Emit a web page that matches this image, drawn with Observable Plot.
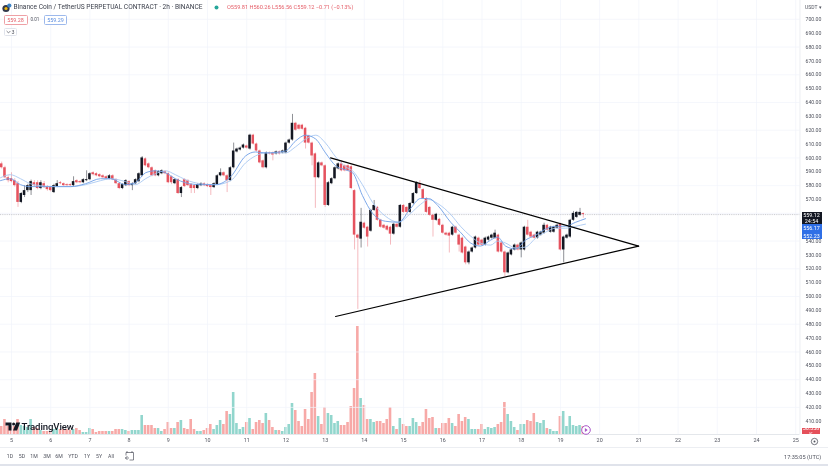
<!DOCTYPE html>
<html><head><meta charset="utf-8">
<script src="https://cdn.jsdelivr.net/npm/d3@7"></script>
<script src="https://cdn.jsdelivr.net/npm/@observablehq/plot@0.6"></script>
<style>
html,body{margin:0;padding:0;background:#fff;overflow:hidden}
#chart{position:relative;width:828px;height:466px;font-family:Roboto,sans-serif;color:#131722;overflow:hidden;filter:blur(0.3px)}
#chart>div.p{position:absolute;left:0;top:0}
.t{position:absolute;white-space:nowrap;line-height:1}
.box{position:absolute;box-sizing:border-box;border-radius:1.5px;background:#fff;text-align:center;font-size:5.4px;display:flex;align-items:center;justify-content:center}
.tag{position:absolute;color:#fff;font-size:5.4px;text-align:center;display:flex;flex-direction:column;justify-content:center;line-height:6px}
</style></head><body>
<div id="chart"></div>
<script>
// 2h candles: index 0 is the 4th candle before day 5 00:00
const open=[595.7,592.9,585.7,585,583.6,581.4,567.9,572.9,576.4,576.4,582.1,582.1,577.9,581.4,579.3,578.6,575,579.3,582.1,581.4,580.7,580.7,580,583.6,582.9,582.1,583.6,584.3,589.3,588.6,587.9,587.1,586.4,585,587.1,584.3,581.4,577.9,580,582.9,580,581.4,582.9,587.1,599.3,595.7,592.9,590.7,587.1,588.6,590,588.6,586.4,581.4,584.3,574.3,584.3,583.6,580.7,580,577.9,580,581.4,580.7,580,578.6,580.7,587.1,589.3,587.1,583.6,592.9,604.3,605.7,607.1,608.6,606.4,616.4,610,605,597.9,592.9,603.6,603.6,602.9,604.3,603.6,603.6,610.7,612.9,625,623.6,623.6,621.4,615.7,610.7,602.9,585.7,596.4,594.3,565.7,581.4,585,592.1,595.7,594.3,594.3,593.6,576.4,544.3,541.4,552.9,550,547.1,562.1,564.3,555,551.4,550.7,550,545,552.1,550,565.7,564.3,560.7,567.1,574.3,581.4,577.1,570.7,564.3,558.6,555,555.7,551.4,545.7,545.7,544.3,550,544.3,542.1,535.7,524.3,532.1,535,542.1,540.7,537.1,540.7,542.1,542.1,544.3,538.6,532.1,517.1,530,533.6,537.1,533.6,533.6,550,546.4,544.3,542.1,544.3,545.7,551.4,546.4,546.4,549.3,552.1,533.6,542.1,542.9,555,557.1,558.6,559.81];
const close=[592.9,585.7,583.6,582.9,580,567.9,574.3,576.4,580,582.9,580,577.9,582.1,578.6,577.1,576.4,580,581.4,581.4,580,580,580,582.9,582.1,582.1,584.3,584.3,588.6,587.9,587.1,586.4,585.7,585,587.1,584.3,581.4,577.9,580.7,583.6,580,581.4,584.3,588.6,600,594.3,592.9,587.1,587.1,590,590.7,588.6,582.1,582.1,584.3,574.3,578.6,579.3,580,577.9,577.9,580.7,581.4,580,579.3,578.6,581.4,587.1,589.3,587.1,583.6,592.9,605,606.4,607.1,609.3,607.1,616.4,610,605,596.4,592.9,603.6,602.9,602.1,604.3,602.9,605,610.7,612.9,625,620,620.7,620.7,610.7,610.7,601.4,585.7,596.4,594.3,565.7,582.1,585,592.9,595.7,590.7,590.7,590.7,577.9,544.3,542.1,553.6,549.3,542.9,562.1,565.7,555,550,549.3,547.9,545,552.1,550,565.7,560.7,560.7,567.1,574.3,582.1,577.9,570.7,560.7,558.6,555,559.3,551.4,545.7,544.3,543.6,550,545.7,537.1,531.4,524.3,532.1,535,542.9,537.1,537.1,542.1,542.9,544.3,545.7,532.1,532.1,517.1,531.4,533.6,537.1,533.6,538.6,550,544.3,542.9,542.1,546.4,546.4,551.4,547.9,550,550,551.4,533.6,542.9,544.3,555,560,560.7,560.7,559.12];
const high=[597,594,587,589.3,585,583,575,580,581,584,583.6,583.5,583.5,583,580,579.5,581,583.6,583,582,581.4,581.4,586.4,584.3,583.6,585,590.7,589.3,590,589.3,588.6,587.9,587.1,587.9,587.9,585,582.1,581.4,584.3,583.6,582.1,585,589.3,601,600,596.4,593.6,591.4,590.7,591.4,590.7,589.3,587.1,585,585,579.3,585,584.3,581.4,580.7,581.4,582.1,582.1,581.4,580.7,582.1,587.9,592.1,590,587.9,593.6,610.7,607.1,607.9,610,609.3,617.1,617.1,610.7,605.7,598.6,604.3,604.3,604.3,605,605,605.7,611.4,613.6,631.4,625.7,624.3,624.3,622.1,616.4,611.4,603.6,597.1,597.1,595,582.9,585.7,593.6,596.4,597.9,595,595,594.3,577.1,545,563.6,553.6,550.7,562.9,569.3,565,555.7,552.1,551.4,550.7,552.9,552.9,566.4,566.4,565,567.9,575,582.9,583.6,577.9,571.4,565,559.3,560,556.4,552.1,546.4,546.4,550.7,550.7,545,542.9,536.4,532.9,535.7,543.6,542.9,541.4,542.9,543.6,545,547.9,545,539.3,532.9,532.1,534.3,537.9,537.9,539.3,550.7,555,547.1,545,547.1,547.1,552.9,552.1,550.7,550.7,552.1,552.9,543.6,545,555.7,561.4,561.4,563.6,560.26];
const low=[592,585,582,582,579,564.3,567,571.4,575,572.9,579,577,577,578,576,575.5,574.3,578.6,580.7,579.3,579.3,579.3,579.3,581.4,581.4,581.4,582.9,583.6,587,586.4,585.7,585,584.3,584.3,583.6,580.7,577.1,577.1,579.3,579.3,576.4,580.7,582.1,586.4,593.6,592.1,586.4,586.4,586.4,587.9,587.9,581.4,580.7,580.7,573.6,571.4,578.6,579.3,574.3,574.3,577.1,579.3,579.3,578.6,572.9,577.9,580,586.4,586.4,575,582.9,592.1,603.6,605,606.4,606.4,605.7,609.3,604.3,595.7,592.1,592.1,602.1,597.9,602.1,602.1,602.9,602.9,610,612.1,619.3,620,620,606.4,610,594.3,563.6,585,593.6,564.3,565,580.7,584.3,591.4,590,590,590,577.1,533.6,490.7,535,548.6,535.7,546.4,561.4,554.3,549.3,548.6,547.1,537.1,544.3,549.3,549.3,560,560,560,566.4,573.6,577.1,570,560,557.9,542.9,554.3,550.7,545,543.6,531.4,543.6,545,532.1,530.7,522.9,522.9,531.4,534.3,536.4,536.4,536.4,540,541.4,541.4,531.4,531.4,514.3,516.4,529.3,532.9,532.9,527.9,532.9,543.6,542.1,541.4,541.4,543.6,545,547.1,545.7,545.7,548.6,532.9,524.3,541.4,542.1,554.3,556.4,557.9,556.56];
// volume, thousands
const volume=[56,105,56,56,56,105,63,56,49,105,49,42,28,21,21,21,35,42,35,35,35,28,35,42,28,14,14,42,35,14,21,21,21,21,21,35,35,35,28,21,28,28,28,133,63,63,63,42,42,21,35,84,42,42,84,98,42,35,105,35,21,21,28,42,70,35,63,98,70,161,140,294,77,35,49,84,112,35,84,98,77,147,98,49,28,28,21,49,70,217,168,91,56,175,105,294,427,126,70,189,147,133,77,91,63,63,84,196,322,756,252,203,105,105,84,91,91,77,105,189,56,35,112,70,56,56,112,84,56,84,175,112,119,42,42,77,77,112,77,56,140,91,119,105,35,35,35,70,35,49,42,49,70,84,224,140,91,49,28,70,70,98,91,147,84,77,98,42,35,21,21,126,161,56,126,63,56,63,56];
// moving averages read at sparse days
const maDays=[4.72,4.97,5.23,5.48,5.74,6.12,6.51,6.89,7.27,7.53,7.91,8.16,8.42,8.67,8.93,9.18,9.44,9.82,10.2,10.59,10.97,11.22,11.48,11.99,12.24,12.5,12.76,13.01,13.27,13.52,13.7,13.95,14.21,14.54,14.87,15.18,15.43,15.64,15.87,16.2,16.45,16.71,16.96,17.22,17.4,17.6,17.86,18.11,18.37,18.62,18.88,19.13,19.39,19.64];
const maFast=[583.6,585,580.7,579.3,579.3,579.3,579.3,581.4,585,585,580.7,582.1,589.3,590.7,589.3,585,582.1,580.7,580.7,586.4,601.4,604.3,603.6,605,612.1,616.4,613.6,603.6,594.3,591.4,589.3,572.9,560,554.3,553.6,563.6,570.7,570.7,565.7,553.6,546.4,538.6,536.4,540.7,542.9,536.4,534.3,540.7,544.3,548.6,550.7,550.7,553.6,556.17];
const maSlow=[585.7,587.9,585,581.4,580,579.3,579.3,580.7,583.6,585,582.9,580.7,585,588.6,590.7,587.9,584.3,581.4,580.7,583.6,596.4,601.4,603.6,603.6,607.9,613.6,616.4,610.7,600.7,593.6,590.7,580.7,567.9,557.9,553.6,560,566.4,570,567.1,559.3,550.7,543.6,538.6,537.1,540,538.6,535,535.7,542.1,546.4,549.3,549.3,550.7,552.23];
// hand-drawn triangle, upper and lower leg
const upperLegDay=[13.138,20.995], upperLegPrice=[600,536.4];
const lowerLegDay=[13.265,20.995], lowerLegPrice=[485.6,536.4];
const lastPrice=559.12;
const dayTicks=[5,6,7,8,9,10,11,12,13,14,15,16,17,18,19,20,21,22,23,24,25];
const priceTicks=[410,420,430,440,450,460,470,480,490,500,510,520,530,540,570,580,590,600,610,620,630,640,650,660,670,680,690,700];
const gridPrices=[420,440,460,480,500,520,540,560,580,600,620,640,660,680,700];
const rangeButtons=[["1D",10],["5D",22],["1M",34],["3M",47],["6M",59],["YTD",73],["1Y",87],["5Y",99],["All",111]];

const candles=open.map((o,i)=>({day:5+(i-3)/12,open:o,close:close[i],high:high[i],low:low[i],volume:volume[i],up:close[i]>=o}));
const red="#e5535f",black="#131722",volRed="#f7a9a7",volTeal="#92d6cd";
const xDomain=[4.72,25.11];
const M={width:828,height:466,marginLeft:0,marginRight:28.5,marginTop:0,marginBottom:32,style:{background:"transparent",overflow:"visible"}};

const volPlot=Plot.plot({...M,x:{domain:xDomain,axis:null},y:{domain:[0,3038],axis:null},
  marks:[
    Plot.rectY(candles,{x1:d=>d.day-0.033,x2:d=>d.day+0.033,y1:0,y2:"volume",fill:d=>d.up?volTeal:volRed})
  ]});
const pricePlot=Plot.plot({...M,
  x:{domain:xDomain,axis:null},
  y:{domain:[400.45,713.58],axis:null},
  marks:[
    Plot.gridX(dayTicks,{stroke:"#f0f3fa",strokeOpacity:1,strokeWidth:0.7}),
    Plot.gridY(gridPrices,{stroke:"#f0f3fa",strokeOpacity:1,strokeWidth:0.7}),
    Plot.ruleY([400.45],{stroke:"#d9dce3",strokeWidth:0.7}),
    Plot.ruleX([25.11],{stroke:"#e4e6ec",strokeWidth:0.7}),
    Plot.ruleY([lastPrice],{stroke:"#b4b6be",strokeWidth:0.7,strokeDasharray:"1 0.8"}),
    Plot.ruleX(candles,{x:"day",y1:"low",y2:"high",stroke:d=>d.up?black:red,strokeWidth:0.8,strokeOpacity:d=>d.up?0.6:0.5}),
    Plot.rect(candles,{x1:d=>d.day-0.032,x2:d=>d.day+0.032,y1:"open",y2:"close",fill:d=>d.up?black:red}),
    Plot.line(maDays.map((d,i)=>({d,p:maSlow[i]})),{x:"d",y:"p",stroke:"#a9c8f2",strokeWidth:0.9,curve:"monotone-x"}),
    Plot.line(maDays.map((d,i)=>({d,p:maFast[i]})),{x:"d",y:"p",stroke:"#6f9fe6",strokeWidth:0.9,curve:"monotone-x"}),
    Plot.line(upperLegDay.map((d,i)=>({d,p:upperLegPrice[i]})),{x:"d",y:"p",stroke:"#000",strokeWidth:1.2}),
    Plot.line(lowerLegDay.map((d,i)=>({d,p:lowerLegPrice[i]})),{x:"d",y:"p",stroke:"#000",strokeWidth:1.2}),
    Plot.axisY(priceTicks,{anchor:"right",tickSize:0,tickPadding:5.5,label:null,tickFormat:d=>d.toFixed(2),fontSize:5.2,fill:"#50535e",fontFamily:"Roboto"}),
    Plot.axisX(dayTicks,{anchor:"bottom",tickSize:0,tickPadding:4,label:null,tickFormat:d=>String(d),fontSize:5.4,fill:"#50535e",fontFamily:"Roboto"})
  ]});

const root=document.getElementById("chart");
for(const pl of [volPlot,pricePlot]){const w=document.createElement("div");w.className="p";w.append(pl);root.append(w);}
function text(s,x,y,size,color,extra){const d=document.createElement("div");d.className="t";d.textContent=s;
  Object.assign(d.style,{left:x+"px",top:y+"px",fontSize:size+"px",color},extra||{});root.append(d);return d;}
function box(s,x,y,w,h,color,border){const d=document.createElement("div");d.className="box";d.textContent=s;
  Object.assign(d.style,{left:x+"px",top:y+"px",width:w+"px",height:h+"px",color,border:"0.7px solid "+border});root.append(d);return d;}
function tag(lines,x,y,w,h,bg){const d=document.createElement("div");d.className="tag";
  Object.assign(d.style,{left:x+"px",top:y+"px",width:w+"px",height:h+"px",background:bg});
  lines.forEach(l=>{const s=document.createElement("span");s.textContent=l;d.append(s)});root.append(d);}

// header
root.insertAdjacentHTML("beforeend",`<svg style="position:absolute;left:2px;top:3px" width="10" height="10"><circle cx="4" cy="5.5" r="3.6" fill="#33384a"/><circle cx="4" cy="5.5" r="1.6" fill="#f0b90b"/><circle cx="7.3" cy="2.6" r="2.1" fill="#3b82c4"/></svg>
<svg style="position:absolute;left:213px;top:4px" width="7" height="7"><circle cx="3.5" cy="3.5" r="2" fill="#26a69a"/></svg>`);
text("Binance Coin / TetherUS PERPETUAL CONTRACT · 2h · BINANCE",13.5,4,6.6,"#3a3e4a");
text("O559.81 H560.26 L556.56 C559.12 −0.71 (−0.13%)",227,4.6,5.6,"#e5606a");
box("559.28",3.5,15,24,9.5,"#e5606a","#eea0a5");
text("0.01",30.5,17.6,4.6,"#50535e");
box("559.29",44,15,23,9.5,"#5b8de0","#9db9ec");
box("3",3.5,27.5,13,8,"#50535e","#e0e3eb").style.paddingLeft="6px";
root.insertAdjacentHTML("beforeend",`<svg style="position:absolute;left:6px;top:29.5px" width="5" height="4" fill="none" stroke="#50535e" stroke-width="0.7"><path d="M0.6 1l1.9 1.9L4.4 1"/></svg>`);
text("USDT ▾",805,4.5,5,"#50535e");

// price tags
tag(["559.12","24:54"],801.5,211.5,20,12.5,"#131722");
tag(["556.17"],801.5,224,20,8.8,"#2f6fe6");
tag(["552.23"],801.5,232.8,20,5.8,"#2f6fe6");
tag(["56.358 K"],802,427.5,18,6,"#e5505a");

// TradingView mark
root.insertAdjacentHTML("beforeend",`<svg style="position:absolute;left:4.5px;top:421px" width="17" height="11" viewBox="0 0 17 11"><path d="M0.5 1.5h6v8h-3v-5h-3z M8 9.5l3.2-8h4l-3.2 8z" fill="#131722"/><circle cx="8.6" cy="3" r="1.5" fill="#131722"/></svg>`);
text("TradingView",21.5,422,9.6,"#131722",{fontWeight:"500",letterSpacing:"-0.1px"});

// bottom toolbar
root.insertAdjacentHTML("beforeend",`<div style="position:absolute;left:0;top:447px;width:828px;height:0.7px;background:#eceef2"></div>
<div style="position:absolute;left:0;top:463.5px;width:828px;height:3px;background:#e0e3eb"></div>
<svg style="position:absolute;left:124px;top:450px" width="11" height="12" viewBox="0 0 11 12" fill="none" stroke="#50535e" stroke-width="0.7"><path d="M2 2.5h7.5v7.5h-4M2 2.5v3M1 8h4M3.5 6l-2 2 2 2M3 1v2M8 1v2"/></svg>
<svg style="position:absolute;left:809px;top:435.5px" width="11" height="11"><circle cx="5.5" cy="5.5" r="3.2" fill="none" stroke="#50535e" stroke-width="0.8"/><circle cx="5.5" cy="5.5" r="1" fill="#50535e"/></svg>
<svg style="position:absolute;left:580px;top:424px" width="12" height="12"><circle cx="6" cy="6" r="4.3" fill="#fff" stroke="#a855c8" stroke-width="1"/><path d="M4.9 4l2.8 2-2.8 2z" fill="#a855c8"/></svg>`);
for(const [s,x] of rangeButtons){const d=text(s,x,453.5,5.2,"#50535e");d.style.transform="translateX(-50%)";}
text("17:35:05 (UTC)",784,454.5,5.6,"#50535e");
</script>
</body></html>
